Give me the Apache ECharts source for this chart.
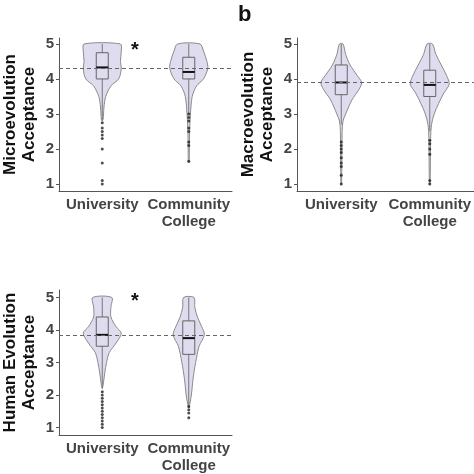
<!DOCTYPE html>
<html><head><meta charset="utf-8">
<script src="https://cdn.jsdelivr.net/npm/echarts@6/dist/echarts.min.js"></script>
<style>html,body{margin:0;background:#fff}#main{width:474px;height:474px}</style>
</head><body><div id="main"></div>
<script>
var categories = ['University', 'Community\nCollege'];
var panelNames = ['Microevolution\nAcceptance', 'Macroevolution\nAcceptance', 'Human Evolution\nAcceptance'];
var refLines = [4.3, 3.9, 3.85];
// violin profiles: [y, half width as fraction of category band]
var violins = [
    [
        [[5,0.21],[4.8,0.22],[4.5,0.21],[4.3,0.22],[4.0,0.19],[3.8,0.1],[3.5,0.04],[3.2,0.02],[3.0,0.015],[2.85,0.01],[2.8,0]],
        [[5,0.13],[4.8,0.17],[4.5,0.21],[4.3,0.22],[4.0,0.17],[3.8,0.09],[3.5,0.04],[3.0,0.02],[2.5,0.01],[1.65,0.005],[1.6,0]]
    ],
    [
        [[5,0.02],[4.7,0.05],[4.4,0.1],[4.1,0.18],[3.9,0.23],[3.7,0.2],[3.4,0.12],[3.0,0.05],[2.8,0.02],[2.5,0.01],[1,0.004]],
        [[5,0.03],[4.7,0.07],[4.4,0.13],[4.1,0.19],[3.85,0.22],[3.6,0.16],[3.3,0.1],[3.0,0.05],[2.7,0.02],[2.3,0.01],[1,0.004]]
    ],
    [
        [[5,0.11],[4.7,0.1],[4.4,0.1],[4.1,0.16],[3.9,0.22],[3.6,0.16],[3.3,0.08],[3.0,0.05],[2.7,0.03],[2.3,0.01],[2.2,0]],
        [[5,0.06],[4.7,0.07],[4.4,0.1],[4.1,0.15],[3.85,0.18],[3.5,0.12],[3.0,0.08],[2.5,0.05],[2.0,0.03],[1.7,0.01],[1.6,0]]
    ]
];
// boxes: [whiskerLow, Q1, median, Q3, whiskerHigh]
var boxes = [
    [[2.8, 4.0, 4.33, 4.75, 5], [3.0, 4.0, 4.2, 4.62, 5]],
    [[2.7, 3.55, 3.9, 4.4, 5], [2.5, 3.5, 3.83, 4.25, 5]],
    [[2.2, 3.5, 3.85, 4.4, 5], [1.6, 3.25, 3.75, 4.28, 5]]
];
var outliers = [
    [[2.75,2.6,2.5,2.4,2.3,2.0,1.6,1.1,1.0], [3.0,2.9,2.8,2.6,2.5,2.2,2.1,1.65]],
    [[2.2,2.1,2.0,1.9,1.75,1.6,1.5,1.25,1.0], [2.25,2.15,2.0,1.85,1.1,1.0]],
    [[2.1,2.0,1.9,1.8,1.7,1.6,1.5,1.4,1.3,1.2,1.1,1.0], [1.65,1.55,1.45,1.3]]
];
var yTicks = [1, 2, 3, 4, 5];

var grids = [
    {left: 43, top: 38, width: 189, height: 153},
    {left: 297, top: 38, width: 177, height: 153},
    {left: 43, top: 290, width: 189, height: 153}
];
var yRanges = [[0.8, 5.17], [0.8, 5.17], [0.77, 5.23]];

var chart = echarts.init(document.getElementById('main'));
var xAxes = [], yAxes = [], series = [];
grids.forEach(function (g, p) {
    xAxes.push({
        type: 'category', gridIndex: p, data: categories,
        axisLine: {lineStyle: {color: '#555', width: 1}}, axisTick: {show: false},
        axisLabel: {interval: 0, hideOverlap: false, color: '#444', fontWeight: 'bold', fontSize: 15, lineHeight: 17, margin: 5, fontFamily: 'Liberation Sans'}
    });
    yAxes.push({
        type: 'value', gridIndex: p, min: yRanges[p][0], max: yRanges[p][1],
        name: panelNames[p], nameLocation: 'middle', nameGap: 20, nameRotate: 90,
        nameTextStyle: {color: '#111', fontWeight: 'bold', fontSize: 17, lineHeight: 19, fontFamily: 'Liberation Sans'},
        splitLine: {show: false},
        axisLine: {show: true, lineStyle: {color: '#555', width: 1}},
        axisTick: {show: true, customValues: yTicks, length: 3, lineStyle: {color: '#555'}},
        axisLabel: {customValues: yTicks, color: '#444', fontWeight: 'bold', fontSize: 15, margin: 5, fontFamily: 'Liberation Sans'}
    });
    series.push({
        type: 'custom', xAxisIndex: p, yAxisIndex: p,
        data: [[0, 5], [1, 5]],
        renderItem: function (params, api) {
            var c = api.value(0);
            var band = api.size([1, 0])[0];
            var prof = violins[p][c];
            var left = [], right = [];
            prof.forEach(function (d) {
                var pt = api.coord([c, d[0]]);
                left.push([pt[0] - d[1] * band, pt[1]]);
                right.unshift([pt[0] + d[1] * band, pt[1]]);
            });
            var b = boxes[p][c];
            var cx = api.coord([c, 0])[0];
            var bw = 6;
            var yy = b.map(function (v) { return api.coord([c, v])[1]; });
            return {type: 'group', children: [
                {type: 'polygon', shape: {points: left.concat(right), smooth: 0.3},
                    style: {fill: '#dedcee', stroke: '#8a8a8a', lineWidth: 1}},
                {type: 'line', shape: {x1: cx, y1: yy[0], x2: cx, y2: yy[4]}, style: {stroke: '#777', lineWidth: 1}},
                {type: 'rect', shape: {x: cx - bw, y: yy[3], width: 2 * bw, height: yy[1] - yy[3]},
                    style: {fill: '#dedcee', stroke: '#666', lineWidth: 1}},
                {type: 'line', shape: {x1: cx - bw, y1: yy[2], x2: cx + bw, y2: yy[2]}, style: {stroke: '#111', lineWidth: 2}}
            ]};
        },
        markLine: {
            silent: true, symbol: 'none', label: {show: false},
            lineStyle: {color: '#666', type: [4, 3], width: 1},
            data: [{yAxis: refLines[p]}]
        },
        z: 2
    });
    var pts = [];
    outliers[p].forEach(function (arr, c) { arr.forEach(function (v) { pts.push([c, v]); }); });
    series.push({
        type: 'scatter', xAxisIndex: p, yAxisIndex: p, data: pts,
        symbolSize: 3, itemStyle: {color: '#222'}, z: 3
    });
});

chart.setOption({
    animation: false,
    grid: grids,
    xAxis: xAxes,
    yAxis: yAxes,
    series: series,
    graphic: [
        {type: 'text', left: 238, top: 4, style: {text: 'b', fontSize: 22, fontWeight: 'bold', fill: '#111', fontFamily: 'Liberation Sans'}},
        {type: 'text', left: 131, top: 40, style: {text: '*', fontSize: 20, fontWeight: 'bold', fill: '#111', fontFamily: 'Liberation Sans'}},
        {type: 'text', left: 131, top: 291, style: {text: '*', fontSize: 20, fontWeight: 'bold', fill: '#111', fontFamily: 'Liberation Sans'}}
    ]
});
</script></body></html>
